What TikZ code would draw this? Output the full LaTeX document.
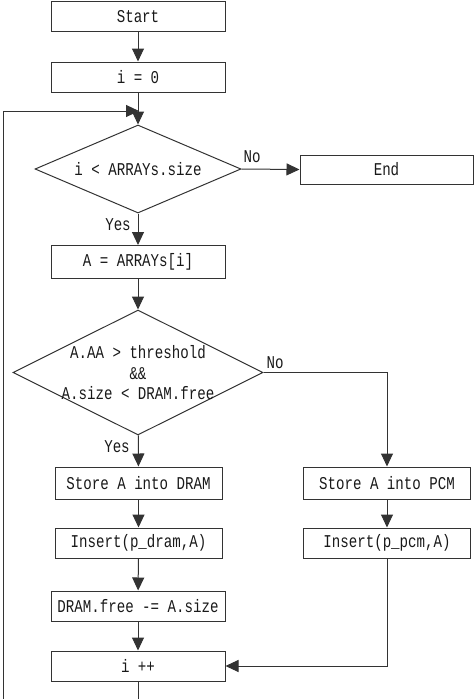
\documentclass[tikz,border=0pt]{standalone}
\usepackage{fontspec}
\setmonofont[FakeStretch=0.785]{Liberation Mono}
\usetikzlibrary{arrows.meta,shapes.geometric}
\begin{document}
\begin{tikzpicture}[x=1pt,y=-1pt,
  txt/.style={font=\ttfamily\fontsize{18}{20.5}\selectfont, text=black!90},
  box/.style={draw=black!80, line width=1pt, rectangle, minimum width=174pt, minimum height=30pt, inner sep=0pt, txt},
  sbox/.style={box, minimum width=167pt, minimum height=31pt},
  dia/.style={draw=black!80, line width=1pt, diamond, inner sep=0pt},
  arr/.style={draw=black!80, line width=1pt, -{Triangle[length=13pt,width=12pt]}},
  lab/.style={txt, inner sep=0pt}]
\useasboundingbox (0,0) rectangle (474,699);
\clip (0,0) rectangle (474,699);

\node[box] (start) at (138,16.5) {Start};
\node[box] (i0) at (138,77) {i = 0};
\node[dia, minimum width=206pt, minimum height=88pt] (d1) at (138,169) {};
\node[lab] (d1t) at (138,169) {i < ARRAYs.size};
\node[box, minimum width=173pt, minimum height=29pt] (end) at (386.5,169.5) {End};
\node[box, minimum height=33pt] (ai) at (138,262) {A = ARRAYs[i]};
\node[dia, minimum width=250pt, minimum height=125pt] (d2) at (138,372.5) {};
\node[lab, align=center] (d2t) at (138,373) {A.AA > threshold\\\&\&\\A.size < DRAM.free};
\node[sbox, minimum height=32pt] (dram1) at (138.5,483) {Store A into DRAM};
\node[sbox, minimum height=32pt] (pcm1) at (387,483) {Store A into PCM};
\node[sbox, minimum height=30pt] (dram2) at (138.5,543) {Insert(p\_dram,A)};
\node[sbox, minimum height=30pt] (pcm2) at (387,543) {Insert(p\_pcm,A)};
\node[box] (dram3) at (138,606) {DRAM.free -= A.size};
\node[box] (inc) at (138,666) {i ++};

\node[lab] (no1) at (252,157) {No};
\node[lab] (yes1) at (118,225) {Yes};
\node[lab] (no2) at (275,363) {No};
\node[lab] (yes2) at (117,447) {Yes};

\coordinate (loopin) at (139,111);
\coordinate (lb) at (138,730);
\coordinate (lc) at (3,730);
\coordinate (ld) at (3,111);

\draw[arr] (start) -- (i0);
\draw[arr] (i0) -- (d1);
\draw[arr] (d1.east) -- (end.west);
\draw[arr] (d1) -- (ai);
\draw[arr] (ai) -- (d2);
\draw[arr] (d2.east) -| (pcm1.north);
\draw[arr] (d2) -- (dram1);
\draw[arr] (dram1) -- (dram2);
\draw[arr] (dram2) -- (dram3);
\draw[arr] (dram3) -- (inc);
\draw[arr] (pcm1) -- (pcm2);
\draw[arr] (pcm2.south) |- (inc.east);
\draw[arr] (inc.south) -- (lb) -- (lc) -- (ld) -- (loopin);
\end{tikzpicture}
\end{document}
